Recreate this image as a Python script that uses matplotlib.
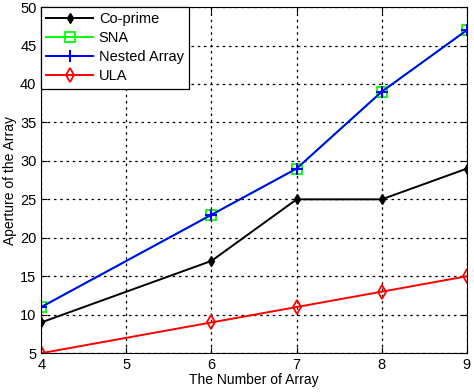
import matplotlib
matplotlib.use('Agg')
import matplotlib.pyplot as plt

matplotlib.rcParams['font.family'] = ['Liberation Sans', 'DejaVu Sans']
matplotlib.rcParams['xtick.direction'] = 'in'
matplotlib.rcParams['ytick.direction'] = 'in'

n_array = [4, 6, 7, 8, 9]
coprime = [9, 17, 25, 25, 29]
sna = [11, 23, 29, 39, 47]
nested = [11, 23, 29, 39, 47]
ula = [5, 9, 11, 13, 15]

fig = plt.figure(figsize=(4.74, 3.92), dpi=100)
ax = fig.add_axes([0.087, 0.099, 0.898, 0.883])

ax.plot(n_array, coprime, color='k', marker='d', markersize=5, lw=1.4, label='Co-prime')
ax.plot(n_array, sna, color='#00ff00', marker='s', markersize=6.5, mfc='none', mew=1.3, lw=1.4, label='SNA')
ax.plot(n_array, nested, color='b', marker='+', markersize=8, mew=1.5, lw=1.4, label='Nested Array')
ax.plot(n_array, ula, color='r', marker='d', markersize=7, mfc='none', mew=1.3, lw=1.4, label='ULA')

ax.set_xlim(4, 9)
ax.set_ylim(5, 50)
ax.set_xticks([4, 5, 6, 7, 8, 9])
ax.set_yticks(range(5, 51, 5))
ax.tick_params(labelsize=10.5, length=4, top=True, right=True)
ax.grid(True, color='k', linestyle=(0, (2, 3)), linewidth=0.9)
ax.set_xlabel('The Number of Array', fontsize=10, labelpad=1)
ax.set_ylabel('Aperture of the Array', fontsize=10, labelpad=2)

leg = ax.legend(loc='upper left', fontsize=10.5, fancybox=False, framealpha=1,
                edgecolor='k', borderaxespad=0, handlelength=3.2, borderpad=0.35,
                labelspacing=0.35, handletextpad=0.4)
leg.get_frame().set_linewidth(0.9)

fig.savefig('out.png', dpi=100)
